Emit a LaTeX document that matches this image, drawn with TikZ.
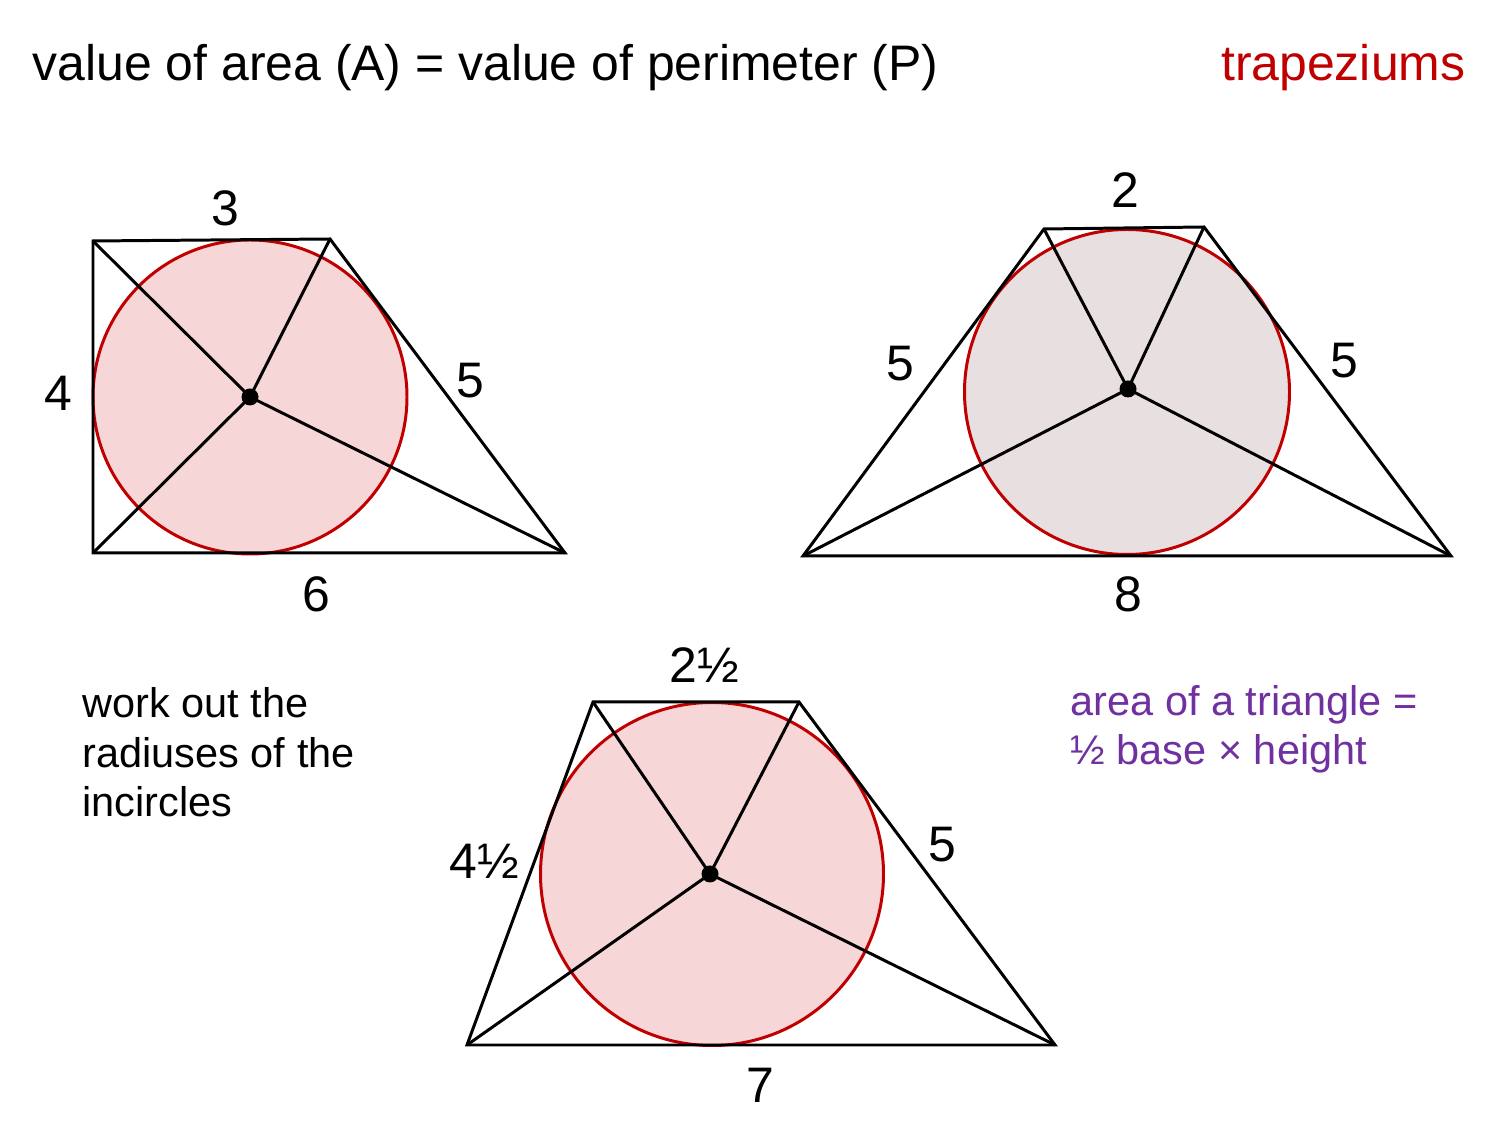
\documentclass[tikz,border=0pt]{standalone}
\usepackage{fontspec}
\setmainfont{Liberation Sans}
\usetikzlibrary{positioning}

\begin{document}
\begin{tikzpicture}[x=0.1mm, y=-0.1mm,
    side/.style={draw=black, line width=0.85pt, line join=miter},
    spoke/.style={draw=black, line width=0.85pt},
    incircle/.style={draw=incred, line width=0.85pt, fill=incfill},
    dot/.style={circle, fill=black, inner sep=0pt, minimum size=1.7mm},
    len/.style={inner sep=0pt, font=\fontsize{14.2}{17}\selectfont},
    note/.style={inner sep=0pt, align=left, anchor=base west, font=\fontsize{11.8}{14.2}\selectfont}]
    % Define colors
    \definecolor{incred}{RGB}{192,0,0}
    \definecolor{incfill}{RGB}{246,214,214}
    \definecolor{incgrey}{RGB}{232,224,224}
    \definecolor{notepurple}{RGB}{112,48,160}

    \useasboundingbox (0,0) rectangle (1502,1146);

    % Titles
    \node[len, anchor=base west] (title) at (32,81) {value of area (A) = value of perimeter (P)};
    \node[len, anchor=base east, text=incred] (kind) at (1466,81) {trapeziums};

    % First trapezium (right angled)
    \coordinate (A1) at (93,241);
    \coordinate (B1) at (330,239);
    \coordinate (C1) at (565,553);
    \coordinate (D1) at (93,553);
    \coordinate (O1) at (250,397);
    \draw[incircle] (O1) circle[radius=15.7mm];
    \draw[side] (A1) -- (B1) -- (C1) -- (D1) -- cycle;
    \foreach \v in {A1,B1,C1,D1} \draw[spoke] (O1) -- (\v);
    \node[dot] (dot1) at (O1) {};
    \node[len] (top1) at (225,208) {3};
    \node[len] (left1) at (58,393) {4};
    \node[len] (right1) at (470,381) {5};
    \node[len] (base1) at (316,594) {6};

    % Second trapezium (isosceles)
    \coordinate (A2) at (1044,229);
    \coordinate (B2) at (1204,227);
    \coordinate (C2) at (1451,556);
    \coordinate (D2) at (803,556);
    \coordinate (O2) at (1128,389);
    \draw[incircle, fill=incgrey] (1127,392) circle[radius=16.25mm];
    \draw[side] (A2) -- (B2) -- (C2) -- (D2) -- cycle;
    \foreach \v in {A2,B2,C2,D2} \draw[spoke] (O2) -- (\v);
    \node[dot] (dot2) at (O2) {};
    \node[len] (top2) at (1125,190) {2};
    \node[len] (left2) at (900,364) {5};
    \node[len] (right2) at (1344,361) {5};
    \node[len] (base2) at (1128,594) {8};

    % Third trapezium
    \coordinate (A3) at (593,702);
    \coordinate (B3) at (799,702);
    \coordinate (C3) at (1055,1045);
    \coordinate (D3) at (467,1045);
    \coordinate (O3) at (710,874);
    \draw[incircle] (712,874) circle[radius=17.15mm];
    \draw[side] (A3) -- (B3) -- (C3) -- (D3) -- cycle;
    \foreach \v in {A3,B3,C3,D3} \draw[spoke] (O3) -- (\v);
    \node[dot] (dot3) at (O3) {};
    \node[len] (top3) at (704,665) {2½};
    \node[len] (left3) at (484,861) {4½};
    \node[len] (right3) at (942,845) {5};
    \node[len] (base3) at (760,1085) {7};

    % Notes (anchored at the last line)
    \node[note] (task) at (82,817) {work out the\\radiuses of the\\incircles};
    \node[note, text=notepurple] (hint) at (1070,765) {area of a triangle =\\½ base × height};
\end{tikzpicture}
\end{document}
